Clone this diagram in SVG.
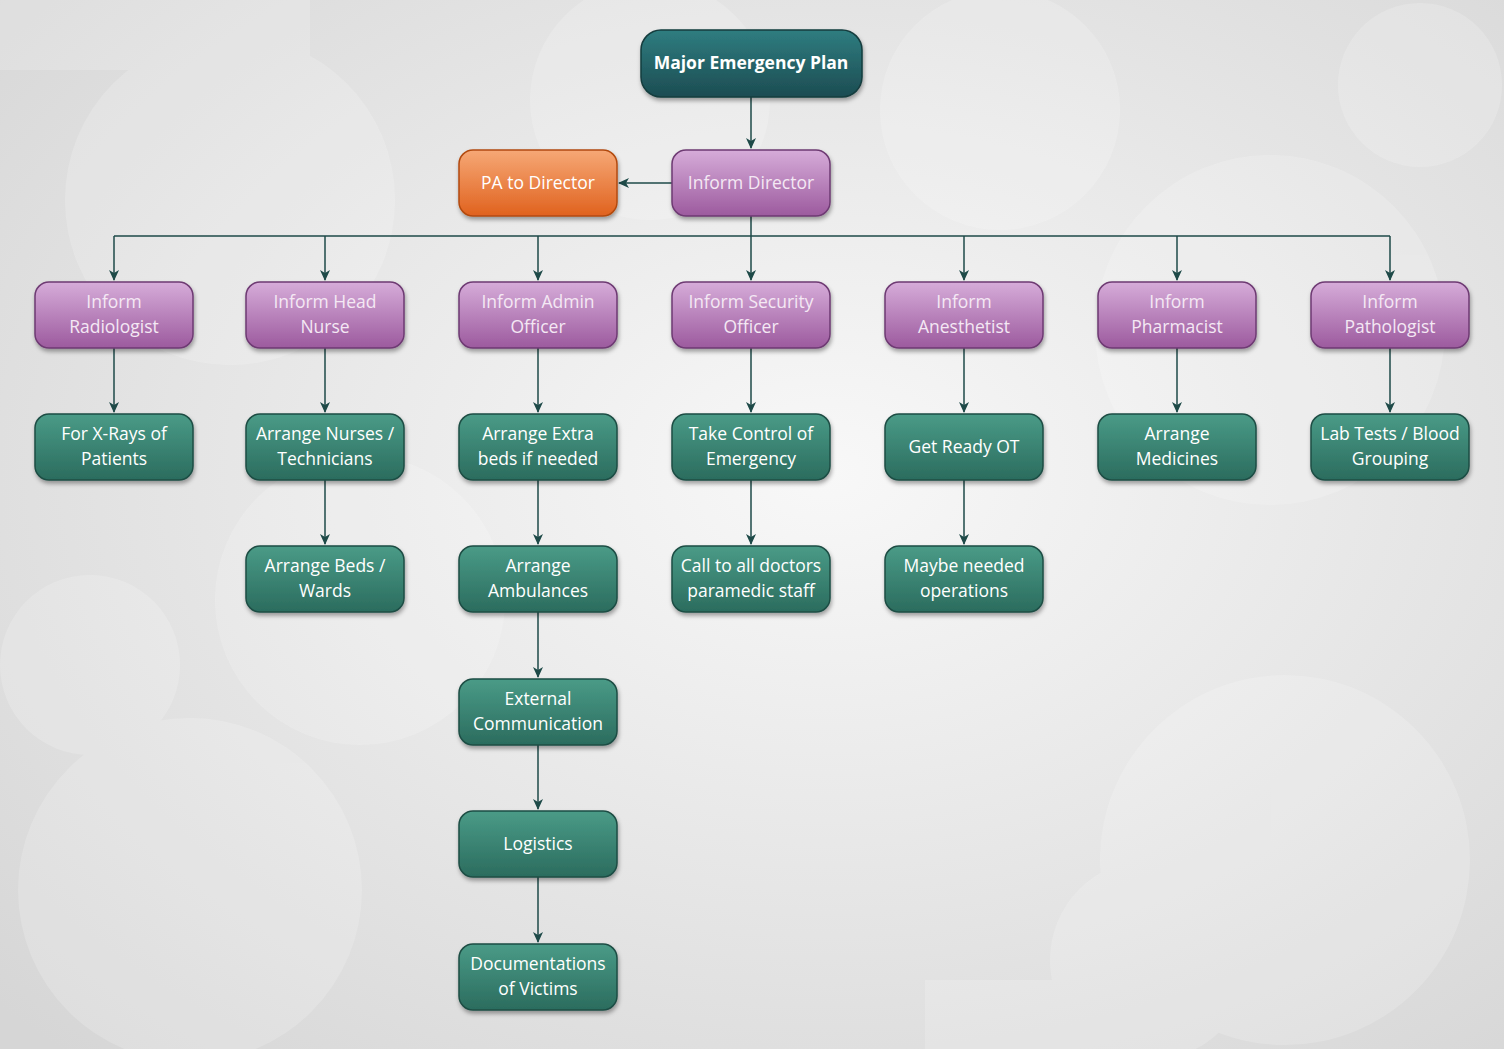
<svg xmlns="http://www.w3.org/2000/svg" width="1504" height="1049" viewBox="0 0 1504 1049">
<defs>
<radialGradient id="bg" cx="0.55" cy="0.45" r="0.75"><stop offset="0" stop-color="#f8f8f8"/><stop offset="1" stop-color="#d6d6d6"/></radialGradient>
<linearGradient id="gp" x1="0" y1="0" x2="0" y2="1"><stop offset="0" stop-color="#d6acd9"/><stop offset="1" stop-color="#9c5a9e"/></linearGradient>
<linearGradient id="gg" x1="0" y1="0" x2="0" y2="1"><stop offset="0" stop-color="#4a9b87"/><stop offset="1" stop-color="#2b6c5e"/></linearGradient>
<linearGradient id="gt" x1="0" y1="0" x2="0" y2="1"><stop offset="0" stop-color="#2f7d80"/><stop offset="1" stop-color="#1c4c52"/></linearGradient>
<linearGradient id="go" x1="0" y1="0" x2="0" y2="1"><stop offset="0" stop-color="#f6a876"/><stop offset="1" stop-color="#e0621e"/></linearGradient>
<filter id="sh" x="-10%" y="-10%" width="130%" height="140%"><feDropShadow dx="1" dy="3" stdDeviation="2" flood-color="#000" flood-opacity="0.35"/></filter>
<marker id="ar" markerWidth="12" markerHeight="12" refX="10" refY="6" orient="auto" markerUnits="userSpaceOnUse"><path d="M0,1 L11,6 L0,11 L3,6 Z" fill="#1e4a48"/></marker>
<style>
.n rect{stroke-width:1.5;filter:url(#sh)}
.p rect{fill:url(#gp);stroke:#6e3a73}
.g rect{fill:url(#gg);stroke:#1e4d44}
.t{fill:#fff;font-family:"Open Sans","Noto Sans",sans-serif;font-size:17.5px;text-anchor:middle}
.p .t{fill:#f4e8f4}
.c path{fill:none;stroke:#1e4a48;stroke-width:1.5}
</style>
</defs>
<rect width="1504" height="1049" fill="url(#bg)"/>
<g fill="#fff" opacity="0.18">
<circle cx="230" cy="200" r="165"/><circle cx="1000" cy="110" r="120"/><circle cx="1420" cy="85" r="82"/><circle cx="1270" cy="330" r="175"/><circle cx="90" cy="665" r="90"/><circle cx="190" cy="890" r="172"/><circle cx="1285" cy="860" r="185"/><circle cx="1150" cy="960" r="100"/><circle cx="360" cy="600" r="145"/><circle cx="650" cy="100" r="120"/>
<rect x="0" y="0" width="310" height="70"/><rect x="925" y="980" width="265" height="69"/>
</g>
<g class="c">
<path d="M751,97 V148" marker-end="url(#ar)"/>
<path d="M672,183 H619" marker-end="url(#ar)"/>
<path d="M751,216 V236 M114,236 H1390"/>
<path d="M114,236 V280" marker-end="url(#ar)"/><path d="M325,236 V280" marker-end="url(#ar)"/><path d="M538,236 V280" marker-end="url(#ar)"/><path d="M751,236 V280" marker-end="url(#ar)"/><path d="M964,236 V280" marker-end="url(#ar)"/><path d="M1177,236 V280" marker-end="url(#ar)"/><path d="M1390,236 V280" marker-end="url(#ar)"/>
<path d="M114,348 V412" marker-end="url(#ar)"/><path d="M325,348 V412" marker-end="url(#ar)"/><path d="M538,348 V412" marker-end="url(#ar)"/><path d="M751,348 V412" marker-end="url(#ar)"/><path d="M964,348 V412" marker-end="url(#ar)"/><path d="M1177,348 V412" marker-end="url(#ar)"/><path d="M1390,348 V412" marker-end="url(#ar)"/>
<path d="M325,480 V544" marker-end="url(#ar)"/><path d="M538,480 V544" marker-end="url(#ar)"/><path d="M751,480 V544" marker-end="url(#ar)"/><path d="M964,480 V544" marker-end="url(#ar)"/>
<path d="M538,612 V677" marker-end="url(#ar)"/><path d="M538,745 V809" marker-end="url(#ar)"/><path d="M538,877 V942" marker-end="url(#ar)"/>
</g>
<g id="top" class="n"><rect x="641" y="30" width="221" height="67" rx="20" fill="url(#gt)" stroke="#143c3e"/><text class="t" x="751" y="69" font-weight="bold">Major Emergency Plan</text></g>
<g id="pa" class="n"><rect x="459" y="150" width="158" height="66" rx="14" fill="url(#go)" stroke="#b24a10"/><text class="t" x="538" y="189">PA to Director</text></g>
<g id="dir" class="n p"><rect x="672" y="150" width="158" height="66" rx="14"/><text class="t" x="751" y="189">Inform Director</text></g>
<g id="p1" class="n p"><rect x="35" y="282" width="158" height="66" rx="14"/><text class="t" x="114" y="308">Inform</text><text class="t" x="114" y="333">Radiologist</text></g>
<g id="p2" class="n p"><rect x="246" y="282" width="158" height="66" rx="14"/><text class="t" x="325" y="308">Inform Head</text><text class="t" x="325" y="333">Nurse</text></g>
<g id="p3" class="n p"><rect x="459" y="282" width="158" height="66" rx="14"/><text class="t" x="538" y="308">Inform Admin</text><text class="t" x="538" y="333">Officer</text></g>
<g id="p4" class="n p"><rect x="672" y="282" width="158" height="66" rx="14"/><text class="t" x="751" y="308">Inform Security</text><text class="t" x="751" y="333">Officer</text></g>
<g id="p5" class="n p"><rect x="885" y="282" width="158" height="66" rx="14"/><text class="t" x="964" y="308">Inform</text><text class="t" x="964" y="333">Anesthetist</text></g>
<g id="p6" class="n p"><rect x="1098" y="282" width="158" height="66" rx="14"/><text class="t" x="1177" y="308">Inform</text><text class="t" x="1177" y="333">Pharmacist</text></g>
<g id="p7" class="n p"><rect x="1311" y="282" width="158" height="66" rx="14"/><text class="t" x="1390" y="308">Inform</text><text class="t" x="1390" y="333">Pathologist</text></g>
<g id="g1" class="n g"><rect x="35" y="414" width="158" height="66" rx="14"/><text class="t" x="114" y="440">For X-Rays of</text><text class="t" x="114" y="465">Patients</text></g>
<g id="g2" class="n g"><rect x="246" y="414" width="158" height="66" rx="14"/><text class="t" x="325" y="440">Arrange Nurses /</text><text class="t" x="325" y="465">Technicians</text></g>
<g id="g3" class="n g"><rect x="459" y="414" width="158" height="66" rx="14"/><text class="t" x="538" y="440">Arrange Extra</text><text class="t" x="538" y="465">beds if needed</text></g>
<g id="g4" class="n g"><rect x="672" y="414" width="158" height="66" rx="14"/><text class="t" x="751" y="440">Take Control of</text><text class="t" x="751" y="465">Emergency</text></g>
<g id="g5" class="n g"><rect x="885" y="414" width="158" height="66" rx="14"/><text class="t" x="964" y="453">Get Ready OT</text></g>
<g id="g6" class="n g"><rect x="1098" y="414" width="158" height="66" rx="14"/><text class="t" x="1177" y="440">Arrange</text><text class="t" x="1177" y="465">Medicines</text></g>
<g id="g7" class="n g"><rect x="1311" y="414" width="158" height="66" rx="14"/><text class="t" x="1390" y="440">Lab Tests / Blood</text><text class="t" x="1390" y="465">Grouping</text></g>
<g id="h2" class="n g"><rect x="246" y="546" width="158" height="66" rx="14"/><text class="t" x="325" y="572">Arrange Beds /</text><text class="t" x="325" y="597">Wards</text></g>
<g id="h3" class="n g"><rect x="459" y="546" width="158" height="66" rx="14"/><text class="t" x="538" y="572">Arrange</text><text class="t" x="538" y="597">Ambulances</text></g>
<g id="h4" class="n g"><rect x="672" y="546" width="158" height="66" rx="14"/><text class="t" x="751" y="572">Call to all doctors</text><text class="t" x="751" y="597">paramedic staff</text></g>
<g id="h5" class="n g"><rect x="885" y="546" width="158" height="66" rx="14"/><text class="t" x="964" y="572">Maybe needed</text><text class="t" x="964" y="597">operations</text></g>
<g id="i3" class="n g"><rect x="459" y="679" width="158" height="66" rx="14"/><text class="t" x="538" y="705">External</text><text class="t" x="538" y="730">Communication</text></g>
<g id="j3" class="n g"><rect x="459" y="811" width="158" height="66" rx="14"/><text class="t" x="538" y="850">Logistics</text></g>
<g id="k3" class="n g"><rect x="459" y="944" width="158" height="66" rx="14"/><text class="t" x="538" y="970">Documentations</text><text class="t" x="538" y="995">of Victims</text></g>
</svg>
